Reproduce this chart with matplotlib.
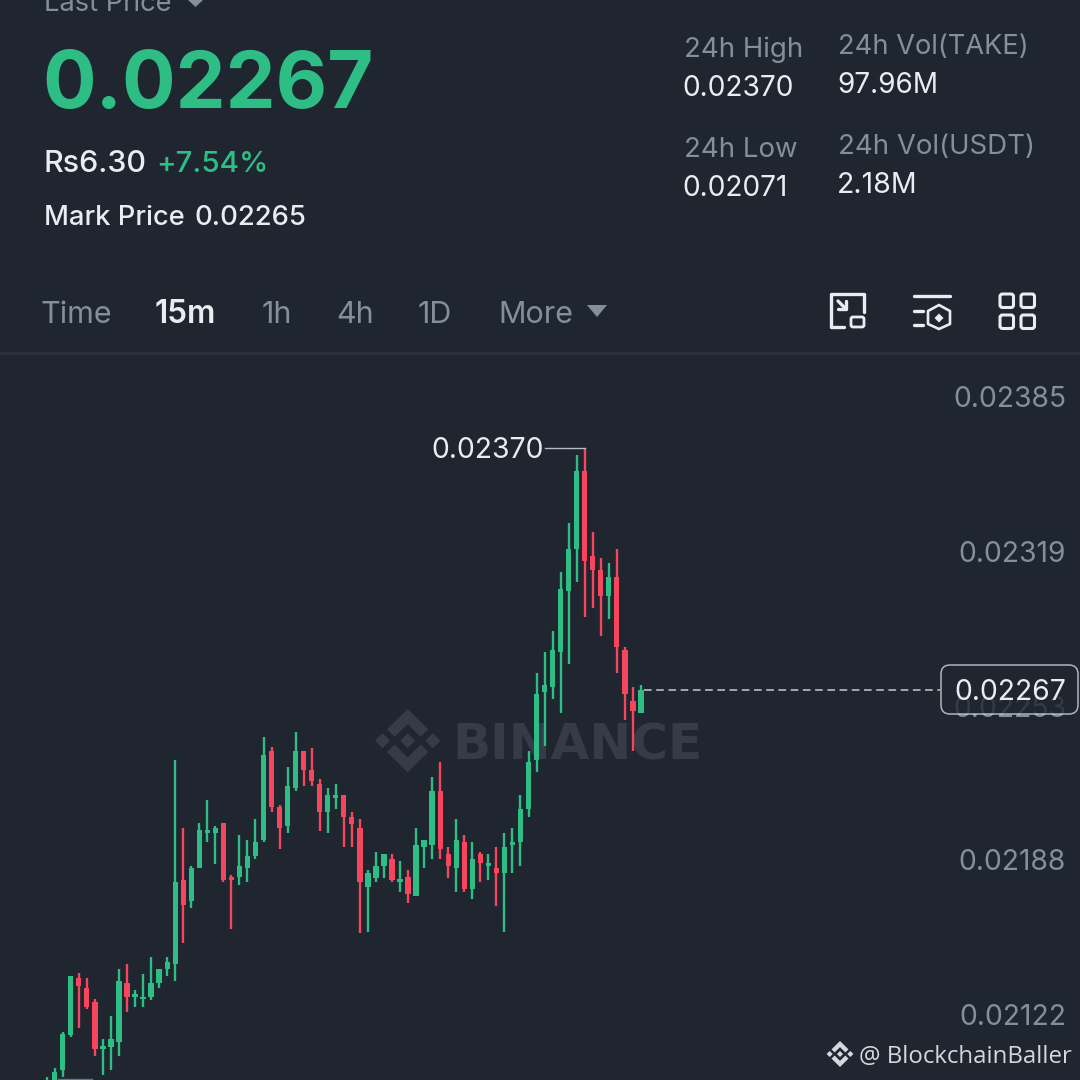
import matplotlib
matplotlib.use("Agg")
import matplotlib.pyplot as plt
from matplotlib.patches import FancyBboxPatch, Polygon, Rectangle

# candle values (15m TAKE/USDT)
opens = [0.020983, 0.021005, 0.021054, 0.021203, 0.021444, 0.021405, 0.021344, 0.021144, 0.021154, 0.021174,
         0.021425, 0.021364, 0.021355, 0.021364, 0.021425, 0.021484, 0.021504, 0.021863, 0.021774, 0.021914,
         0.022064, 0.022064, 0.022104, 0.021874, 0.021874, 0.021914, 0.021964, 0.022033, 0.022413, 0.022172,
         0.022093, 0.022253, 0.022413, 0.022332, 0.022273, 0.022154, 0.022213, 0.022223, 0.022132, 0.022084,
         0.021835, 0.021873, 0.021924, 0.021954, 0.021854, 0.021874, 0.021793, 0.022003, 0.022013, 0.022243,
         0.021974, 0.021914, 0.022023, 0.021823, 0.021974, 0.021924, 0.021913, 0.021894, 0.022013, 0.022023,
         0.022164, 0.022374, 0.022663, 0.022683, 0.022833, 0.023093, 0.023273, 0.023603, 0.023242, 0.023182,
         0.023073, 0.023152, 0.022843, 0.022623, 0.022574]
closes = [0.021005, 0.021046, 0.021206, 0.021454, 0.021413, 0.021324, 0.021144, 0.021157, 0.021186, 0.021435,
          0.021364, 0.021378, 0.021367, 0.021425, 0.021484, 0.021515, 0.021853, 0.021755, 0.021914, 0.022074,
          0.022076, 0.022084, 0.021863, 0.021861, 0.021924, 0.021964, 0.022023, 0.022393, 0.022172, 0.022083,
          0.022263, 0.022413, 0.022332, 0.022283, 0.022154, 0.022223, 0.022223, 0.022132, 0.022103, 0.021853,
          0.021894, 0.021924, 0.021974, 0.021863, 0.021866, 0.021803, 0.022013, 0.022033, 0.022243, 0.021993,
          0.021924, 0.022033, 0.021823, 0.021954, 0.021934, 0.021934, 0.021894, 0.022003, 0.022023, 0.022164,
          0.022364, 0.022653, 0.022693, 0.022842, 0.023103, 0.023273, 0.023603, 0.023222, 0.023182, 0.023073,
          0.023152, 0.022853, 0.022653, 0.022584, 0.022672]
highs = [0.021025, 0.021064, 0.021215, 0.021454, 0.021466, 0.021444, 0.021355, 0.021185, 0.021284, 0.021484,
         0.021505, 0.021394, 0.021464, 0.021535, 0.021484, 0.021535, 0.022374, 0.022084, 0.021924, 0.022104,
         0.022203, 0.022093, 0.022104, 0.021883, 0.022053, 0.022033, 0.022124, 0.022473, 0.022430, 0.022182,
         0.022344, 0.022491, 0.022413, 0.022423, 0.022291, 0.022253, 0.022273, 0.022223, 0.022154, 0.022122,
         0.021904, 0.021984, 0.021974, 0.021974, 0.021944, 0.021904, 0.022084, 0.022033, 0.022303, 0.022364,
         0.022003, 0.022124, 0.022053, 0.022023, 0.021984, 0.021974, 0.022003, 0.022063, 0.022084, 0.022223,
         0.022412, 0.022742, 0.022832, 0.022922, 0.023172, 0.023382, 0.023672, 0.023702, 0.023342, 0.023232,
         0.023212, 0.023273, 0.022853, 0.022684, 0.022693]
lows = [0.020955, 0.020990, 0.021025, 0.021193, 0.021234, 0.021314, 0.021114, 0.021033, 0.021053, 0.021114,
        0.021303, 0.021324, 0.021324, 0.021352, 0.021403, 0.021454, 0.021435, 0.021593, 0.021744, 0.021914,
        0.022023, 0.021932, 0.021853, 0.021654, 0.021843, 0.021853, 0.021954, 0.022023, 0.022154, 0.021993,
        0.022064, 0.022243, 0.022263, 0.022263, 0.022073, 0.022064, 0.022164, 0.022003, 0.022003, 0.021636,
        0.021643, 0.021853, 0.021873, 0.021853, 0.021814, 0.021764, 0.021793, 0.021914, 0.021954, 0.021954,
        0.021873, 0.021814, 0.021814, 0.021783, 0.021853, 0.021863, 0.021754, 0.021643, 0.021894, 0.021924,
        0.022132, 0.022324, 0.022435, 0.022633, 0.022572, 0.022784, 0.023132, 0.022984, 0.023022, 0.022903,
        0.022972, 0.022742, 0.022543, 0.022414, 0.022574]
axis_ticks = [0.02385, 0.02319, 0.02253, 0.02188, 0.02122]
axis_labels = ["0.02385", "0.02319", "0.02253", "0.02188", "0.02122"]
high_label = "0.02370"
last_price = 0.02267

tabs = ["Time", "15m", "1h", "4h", "1D", "More"]
tab_left = [40, 155, 262, 336, 418, 498]

BG = "#1F2630"
GREEN = "#2EBD85"
RED = "#F6465D"
GREY = "#848E9C"
WHITE = "#EAECEF"
FONT = "Inter"

plt.rcParams["font.family"] = [FONT, "DejaVu Sans"]

fig = plt.figure(figsize=(10.8, 10.8), dpi=100, facecolor=BG)

# screen furniture is drawn in pixel coordinates
ui = fig.add_axes([0, 0, 1, 1], zorder=0)
ui.set_xlim(0, 1080)
ui.set_ylim(1080, 0)
ui.axis("off")

ax = fig.add_axes([0, 0, 1, 725 / 1080], zorder=1)
ax.patch.set_alpha(0)
ax.set_xlim(-46.7 / 8.03, (1080 - 46.7) / 8.03)
ax.set_ylim(0.021012, 0.024097)
ax.axis("off")

top = fig.add_axes([0, 0, 1, 1], zorder=2)
top.patch.set_alpha(0)
top.set_xlim(0, 1080)
top.set_ylim(1080, 0)
top.axis("off")


def label(x, y, s, px, color=WHITE, weight="normal", family=None, target=ui):
    target.text(x, y, s, fontsize=px * 0.72, color=color, fontweight=weight,
                va="baseline", ha="left", family=family or [FONT, "DejaVu Sans"])


def logo(cx, cy, scale, color):
    d = 7.5 * scale
    for ox in (-25.2, 0, 25.2):
        ox = ox * scale
        ui.add_patch(Polygon([(cx + ox, cy - d), (cx + ox + d, cy), (cx + ox, cy + d), (cx + ox - d, cy)],
                             fc=color, ec="none"))
    for sign in (-1, 1):
        pts = [(0, 31.7), (20.7, 11.3), (13, 3.7), (0, 16.7), (-13, 3.7), (-20.7, 11.3)]
        ui.add_patch(Polygon([(cx + a * scale, cy + sign * b * scale) for a, b in pts], fc=color, ec="none"))


# header
label(44, 11, "Last Price", 27.3, GREY)
ui.add_patch(Polygon([(188, 0), (203, 0), (195.5, 7)], fc=GREY, ec="none"))
label(42, 108, "0.02267", 79.5, GREEN, "bold")
label(43, 172, "Rs6.30", 30.5, WHITE, "medium")
label(156, 172, "+7.54%", 29.5, GREEN, "medium")
label(44, 225, "Mark Price", 27.3, WHITE, "medium")
label(195, 225, "0.02265", 27.5, WHITE, "medium")

label(684, 57, "24h High", 27.6, GREY)
label(682, 96, "0.02370", 28, WHITE)
label(838, 54, "24h Vol(TAKE)", 27.3, GREY)
label(837, 93, "97.96M", 28, WHITE)
label(684, 157, "24h Low", 27.6, GREY)
label(682, 196, "0.02071", 28, WHITE)
label(838, 154, "24h Vol(USDT)", 27.6, GREY)
label(837, 193, "2.18M", 28.5, WHITE)

# tab bar
for name, x in zip(tabs, tab_left):
    active = name == "15m"
    label(x, 323, name, 31.5 if active else 30.5, WHITE if active else GREY, "semibold" if active else "normal")
ui.add_patch(Polygon([(587, 305), (607, 305), (597, 317)], fc=GREY, ec="none", joinstyle="round"))
ui.add_patch(Rectangle((0, 352), 1080, 3, fc="#2B313B", ec="none"))

# toolbar icons
ICON = dict(color=WHITE, lw=2.4, solid_capstyle="round", solid_joinstyle="round")
ui.plot([844, 831, 831, 864, 864], [327, 327, 294, 294, 312], **ICON)
ui.add_patch(FancyBboxPatch((851, 317), 13, 10, boxstyle="round,pad=0,rounding_size=2", fc="none", ec=WHITE, lw=2))
ui.plot([838, 846], [301, 309], **ICON)
ui.plot([846, 846, 838], [301, 309, 309], **ICON)
ui.plot([914, 950], [296, 296], **ICON)
ui.plot([914, 923], [311, 311], **ICON)
ui.plot([914, 923], [325, 325], **ICON)
ui.add_patch(Polygon([(939, 305), (950, 311), (950, 324), (939, 329), (928, 324), (928, 311)],
                     fc="none", ec=WHITE, lw=1.9, joinstyle="round"))
ui.add_patch(Polygon([(939, 313.5), (943.5, 318), (939, 322.5), (934.5, 318)], fc=WHITE, ec="none"))
for ix in (1000, 1021):
    for iy in (294, 315):
        ui.add_patch(FancyBboxPatch((ix, iy), 13.5, 13.5, boxstyle="round,pad=0,rounding_size=2.5",
                                    fc="none", ec=WHITE, lw=2.2))

# watermark sits under the candles
logo(407.7, 740.7, 1.0, "#363C47")
label(452, 760, "BINANCE", 50, "#363C47", "bold", family=["DejaVu Sans"])

# candles
for i, (o, h, l, c) in enumerate(zip(opens, highs, lows, closes)):
    color = GREEN if c >= o else RED
    ax.vlines(i, l, h, color=color, lw=1.7)
    ax.bar(i, abs(c - o), bottom=min(o, c), width=0.66, color=color, linewidth=0)

# price axis labels sit just above their level
for value, text in zip(axis_ticks, axis_labels):
    ax.annotate(text, (1, value), xycoords=("axes fraction", "data"), xytext=(-10, 10),
                textcoords="offset points", ha="right", va="center", fontsize=20.4, color=GREY)

# high marker
peak = highs.index(max(highs))
ax.annotate(high_label, (peak, max(highs)), xytext=(431, 451), textcoords=ui.transData,
            ha="left", va="center", fontsize=20.4, color=WHITE)
ax.plot([peak - 5, peak], [max(highs), max(highs)], color="#B7BDC6", lw=1)
ui.plot([58, 92], [1079, 1079], color="#6B7280", lw=1)

# last price line and box
ax.plot([len(closes) - 1 + 0.4, 111.3], [last_price, last_price], color="#C7CBD1", lw=1.1, ls=(0, (5, 3)))
top.add_patch(FancyBboxPatch((941, 665), 137, 49, boxstyle="round,pad=0,rounding_size=9",
                             fc=BG, ec="#D5D8DC", lw=1.1, alpha=0.8))
top.text(1010, 692, "0.02267", fontsize=20.4, color=WHITE, ha="center", va="center")

# footer credit
logo(840, 1054, 0.41, "#D5D8DC")
label(859, 1063, "@ BlockchainBaller", 24, "#D5D8DC", family=["Open Sans", "DejaVu Sans"], target=ui)

fig.savefig("out.png", dpi=100, facecolor=BG)
